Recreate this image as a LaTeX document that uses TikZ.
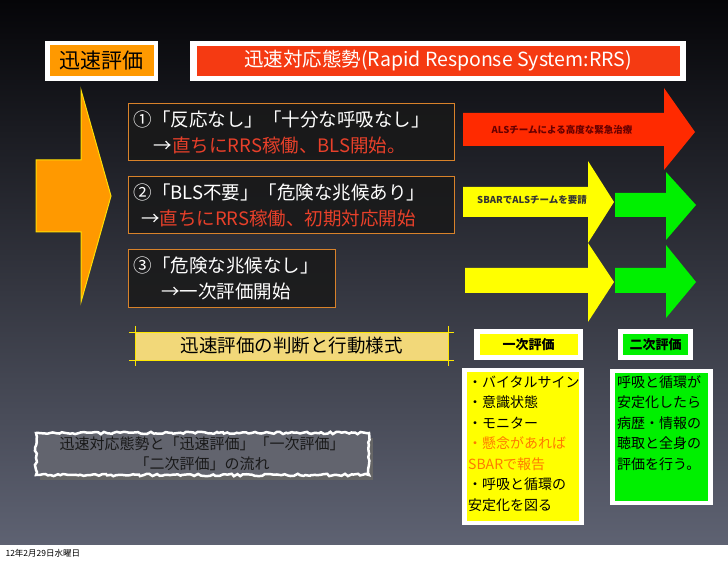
\documentclass[tikz,border=0pt]{standalone}
\usepackage{fontspec}
\setmainfont{Noto Sans CJK JP}
\usetikzlibrary{decorations.pathmorphing}
\definecolor{bgtop}{HTML}{050508}
\definecolor{bgbot}{HTML}{5E6272}
\definecolor{rrsred}{HTML}{F53A12}
\definecolor{arrred}{HTML}{FF2A00}
\definecolor{yel}{HTML}{FFFF00}
\definecolor{grn}{HTML}{00F000}
\definecolor{org}{HTML}{FF9900}
\definecolor{boxorg}{HTML}{D8822A}
\definecolor{txtred}{HTML}{E8402A}
\definecolor{banner}{HTML}{F2D879}
\definecolor{torn}{HTML}{62646E}
\tikzset{
 pane/.style={draw=boxorg,line width=1.2pt,fill=black!90,fill opacity=0.85,text opacity=1,align=left,text=white,font=\fontsize{18.5}{26}\selectfont,anchor=north west,inner xsep=5pt},
 lbl/.style={font=\bfseries\fontsize{9.5}{11}\selectfont,text=black!80},
 listtxt/.style={font=\fontsize{14}{20.5}\selectfont,align=left,anchor=north west,text=black,inner xsep=2pt}
}
\begin{document}
\begin{tikzpicture}[x=1pt,y=-1pt]
\useasboundingbox (0,0) rectangle (728,561);
\shade[top color=bgtop,bottom color=bgbot] (0,0) rectangle (728,545);
\fill[white] (0,545) rectangle (728,561);
\node[anchor=west,font=\fontsize{8.5}{9}\selectfont] (date) at (2,553) {12年2月29日水曜日};
% headers
\fill[white] (45,41) rectangle (158,81);
\node[fill=org,minimum width=104pt,minimum height=31pt,font=\fontsize{21}{22}\selectfont] (qa) at (101.5,61) {迅速評価};
\fill[white] (190,41) rectangle (686,81);
\node[fill=rrsred,text=white,minimum width=483pt,minimum height=30pt,font=\fontsize{19.5}{22}\selectfont] (rrs) at (438,61) {迅速対応態勢(Rapid Response System:RRS)};
% big orange arrow
\fill[org,draw=yellow!80!orange,line width=1pt] (36,160) -- (81,160) -- (81,90) -- (111,196) -- (81,302) -- (81,232) -- (36,232) -- cycle;
% panes
\node[pane,text width=316pt,minimum height=57pt] (p1) at (128,103) {①「反応なし」「十分な呼吸なし」\\\hspace*{1.1em}→\textcolor{txtred}{直ちにRRS稼働、BLS開始。}};
\node[pane,text width=316pt,minimum height=57pt] (p2) at (128,176) {②「BLS不要」「危険な兆候あり」\\\hspace*{0.4em}→\textcolor{txtred}{直ちにRRS稼働、初期対応開始}};
\node[pane,text width=197pt,minimum height=58pt] (p3) at (128,249) {③「危険な兆候なし」\\\hspace*{1.5em}→一次評価開始};
% arrows right
\fill[arrred] (463,113) -- (664,113) -- (664,88) -- (695,132) -- (664,170) -- (664,146) -- (463,146) -- cycle;
\node[lbl,text=red!40!black] (als) at (562,130) {ALSチームによる高度な緊急治療};
\fill[yel] (463,187) -- (588,187) -- (588,161) -- (614,202) -- (588,243) -- (588,217) -- (463,217) -- cycle;
\node[lbl] (sbar) at (532,200) {SBARでALSチームを要請};
\fill[grn] (615,193) -- (666,193) -- (666,172) -- (696,205) -- (666,240) -- (666,217) -- (615,217) -- cycle;
\fill[yel] (465,268) -- (588,268) -- (588,243) -- (614,282) -- (588,322) -- (588,293) -- (465,293) -- cycle;
\fill[grn] (615,268) -- (666,268) -- (666,245) -- (696,282) -- (666,318) -- (666,293) -- (615,293) -- cycle;
% banner
\node[fill=banner,minimum width=313pt,minimum height=28pt,font=\fontsize{18.5}{20}\selectfont] (ban) at (291.5,346) {迅速評価の判断と行動様式};
\draw[yellow!90!orange,line width=0.8pt] (129,332)--(454,332) (129,360)--(454,360) (135,326)--(135,366) (448,326)--(448,366);
% tier headers
\fill[white] (474,329) rectangle (583,360);
\node[fill=yel,minimum width=98pt,minimum height=21pt,font=\bfseries\fontsize{13}{15}\selectfont] (h1) at (528.5,344.5) {一次評価};
\fill[white] (618,329) rectangle (693,360);
\node[fill=grn,minimum width=65pt,minimum height=21pt,font=\bfseries\fontsize{13}{15}\selectfont] (h2) at (655.5,344.5) {二次評価};
% list boxes
\fill[white] (462,368) rectangle (584,525);
\fill[yel] (467,372) rectangle (579,521);
\node[listtxt] (l1) at (466,372) {・バイタルサイン\\・意識状態\\・モニター\\\textcolor{org!80!red}{・懸念があれば}\\\textcolor{org!80!red}{SBARで報告}\\・呼吸と循環の\\安定化を図る};
\fill[white] (610,369) rectangle (713,505);
\fill[grn] (615,373) rectangle (708,501);
\node[listtxt] (l2) at (615,372) {呼吸と循環が\\安定化したら\\病歴・情報の\\聴取と全身の\\評価を行う。};
% torn label
\fill[black!60] (40,438) rectangle (373,480);
\draw[white,line width=2.5pt,fill=torn,decorate,decoration={random steps,segment length=3pt,amplitude=1.2pt}] (36,433) rectangle (369,475);
\node[align=center,font=\fontsize{15}{20}\selectfont,text=black!90] (fl) at (202,454) {迅速対応態勢と「迅速評価」「一次評価」\\「二次評価」の流れ};
\end{tikzpicture}
\end{document}
